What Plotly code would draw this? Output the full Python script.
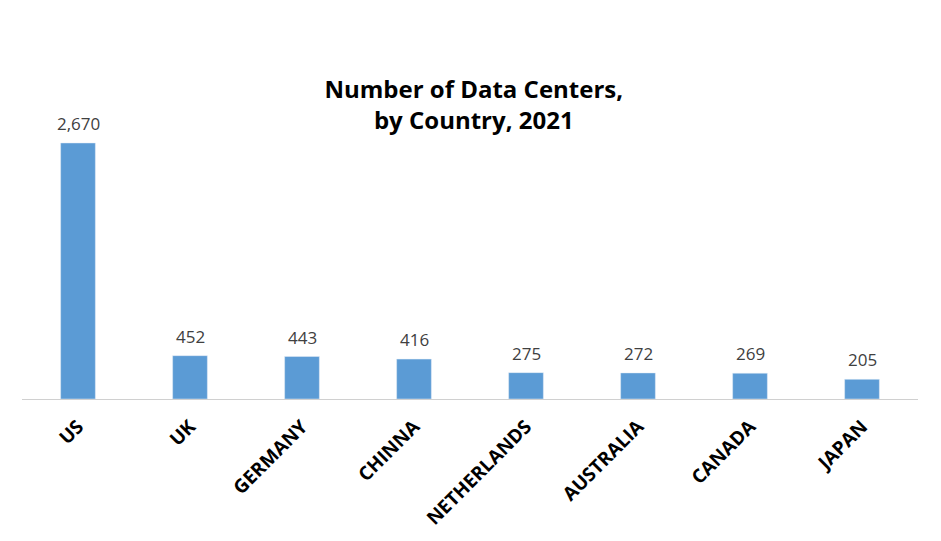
import plotly.graph_objects as go

countries = ['US', 'UK', 'GERMANY', 'CHINNA', 'NETHERLANDS', 'AUSTRALIA', 'CANADA', 'JAPAN']
data_centers = [2670, 452, 443, 416, 275, 272, 269, 205]

bar_blue = '#5b9bd5'

fig = go.Figure()
fig.add_trace(go.Bar(x=countries, y=data_centers, marker_color=bar_blue,
                     width=0.31, hoverinfo='x+y'))

# 数据标签
for c, v in zip(countries, data_centers):
    fig.add_annotation(x=c, y=v, text=f"{v:,}", showarrow=False,
                       yanchor='bottom', yshift=6,
                       font=dict(family='Open Sans', size=17, color='#404040'))

# 页面 body 有 8px 边距，这里整体往左上挪
fig.update_layout(
    width=941, height=541,
    margin=dict(l=14, r=31, t=32, b=150),
    plot_bgcolor='white', paper_bgcolor='white',
    showlegend=False,
    title=dict(text='Number of Data Centers,<br>by Country, 2021',
               x=0.495, xanchor='center', y=0.834, yanchor='middle',
               font=dict(family='Open Sans', size=24, color='black', weight='bold')),
)
fig.update_xaxes(showline=True, linecolor='#d0d0d0', linewidth=1, ticks='outside',
                 ticklen=8, tickcolor='rgba(0,0,0,0)', automargin=False,
                 tickangle=-45,
                 tickfont=dict(family='Open Sans', size=19, color='black', weight='bold'))
fig.update_yaxes(range=[0, 3744], visible=False, showgrid=False)

fig.write_html("out.html")
